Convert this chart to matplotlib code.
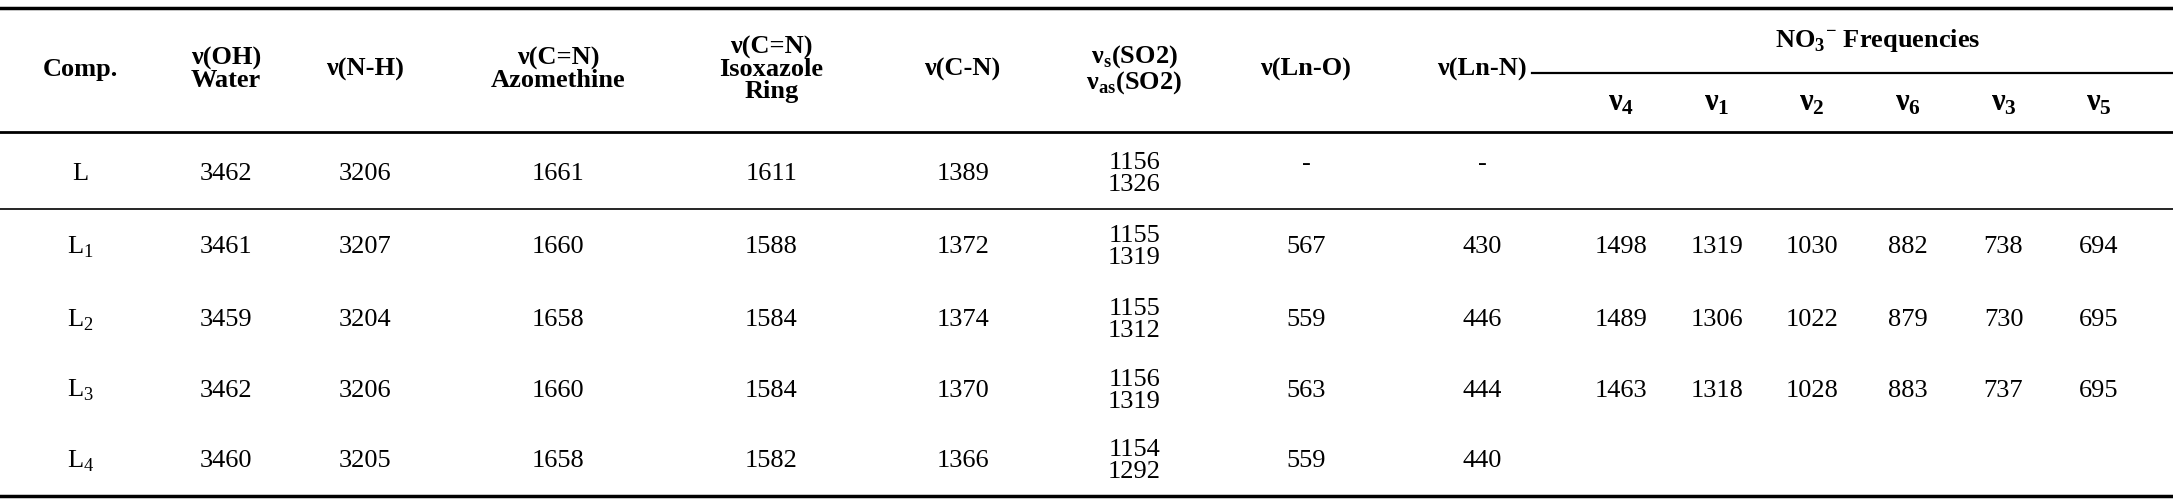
import matplotlib
matplotlib.use("Agg")
import matplotlib.pyplot as plt
from matplotlib.lines import Line2D

plt.rcParams['font.family'] = ['Liberation Serif', 'DejaVu Serif']
plt.rcParams['mathtext.fontset'] = 'custom'
plt.rcParams['mathtext.rm'] = 'Liberation Serif'
plt.rcParams['mathtext.bf'] = 'Liberation Serif:bold'

# data
comps = ["L", "L$_1$", "L$_2$", "L$_3$", "L$_4$"]
v_oh = ["3462", "3461", "3459", "3462", "3460"]
v_nh = ["3206", "3207", "3204", "3206", "3205"]
v_azo = ["1661", "1660", "1658", "1660", "1658"]
v_iso = ["1611", "1588", "1584", "1584", "1582"]
v_cn = ["1389", "1372", "1374", "1370", "1366"]
v_so2_s = ["1156", "1155", "1155", "1156", "1154"]
v_so2_as = ["1326", "1319", "1312", "1319", "1292"]
v_lno = ["-", "567", "559", "563", "559"]
v_lnn = ["-", "430", "446", "444", "440"]
no3 = [None,
       ["1498", "1319", "1030", "882", "738", "694"],
       ["1489", "1306", "1022", "879", "730", "695"],
       ["1463", "1318", "1028", "883", "737", "695"],
       None]
no3_labels = ["$\\mathbf{\\nu_4}$", "$\\mathbf{\\nu_1}$", "$\\mathbf{\\nu_2}$",
              "$\\mathbf{\\nu_6}$", "$\\mathbf{\\nu_3}$", "$\\mathbf{\\nu_5}$"]

fig = plt.figure(figsize=(21.73, 5.04), dpi=100)
ax = fig.add_axes([0, 0, 1, 1]); ax.axis('off')
ax.set_xlim(0, 1); ax.set_ylim(0, 1)

xs = [0.037, 0.104, 0.168, 0.257, 0.355, 0.443, 0.522, 0.601, 0.682]
xn = [0.746, 0.790, 0.834, 0.878, 0.922, 0.966]
fs = 19
y_top, y_sub, y_head, y_bot = 0.985, 0.855, 0.738, 0.015
rows_y = [0.655, 0.510, 0.365, 0.225, 0.085]

def line(y, x0=0, x1=1, lw=2.0):
    ax.add_line(Line2D([x0, x1], [y, y], color='black', lw=lw))

line(y_top, lw=2.5); line(y_head, lw=2.0); line(y_bot, lw=2.5)
line(y_sub, 0.705, 1, lw=1.6)
line(0.585, lw=1.2)

heads = ["Comp.", "ν(OH)\nWater", "ν(N-H)", "ν(C=N)\nAzomethine", "ν(C=N)\nIsoxazole\nRing",
         "ν(C-N)", "ν$_{\\mathbf{s}}$(SO2)\nν$_{\\mathbf{as}}$(SO2)", "ν(Ln-O)", "ν(Ln-N)"]
hy = (y_top + y_head) / 2
for x, h in zip(xs, heads):
    ax.text(x, hy, h, ha='center', va='center', fontsize=fs, fontweight='bold', linespacing=0.95)
ax.text(0.864, (y_top + y_sub) / 2, "NO$_{\\mathbf{3}}$$^{\\mathbf{-}}$ Frequencies", ha='center', va='center',
        fontsize=fs, fontweight='bold')
for x, h in zip(xn, no3_labels):
    ax.text(x, (y_sub + y_head) / 2, h, ha='center', va='center', fontsize=fs + 3)

for i, y in enumerate(rows_y):
    vals = [comps[i], v_oh[i], v_nh[i], v_azo[i], v_iso[i], v_cn[i],
            v_so2_s[i] + "\n" + v_so2_as[i], v_lno[i], v_lnn[i]]
    for x, v in zip(xs, vals):
        ax.text(x, y + (0.02 if v == "-" else 0), v, ha='center', va='center', fontsize=fs, linespacing=1.0)
    if no3[i]:
        for x, v in zip(xn, no3[i]):
            ax.text(x, y, v, ha='center', va='center', fontsize=fs)

fig.savefig("out.png", dpi=100)
